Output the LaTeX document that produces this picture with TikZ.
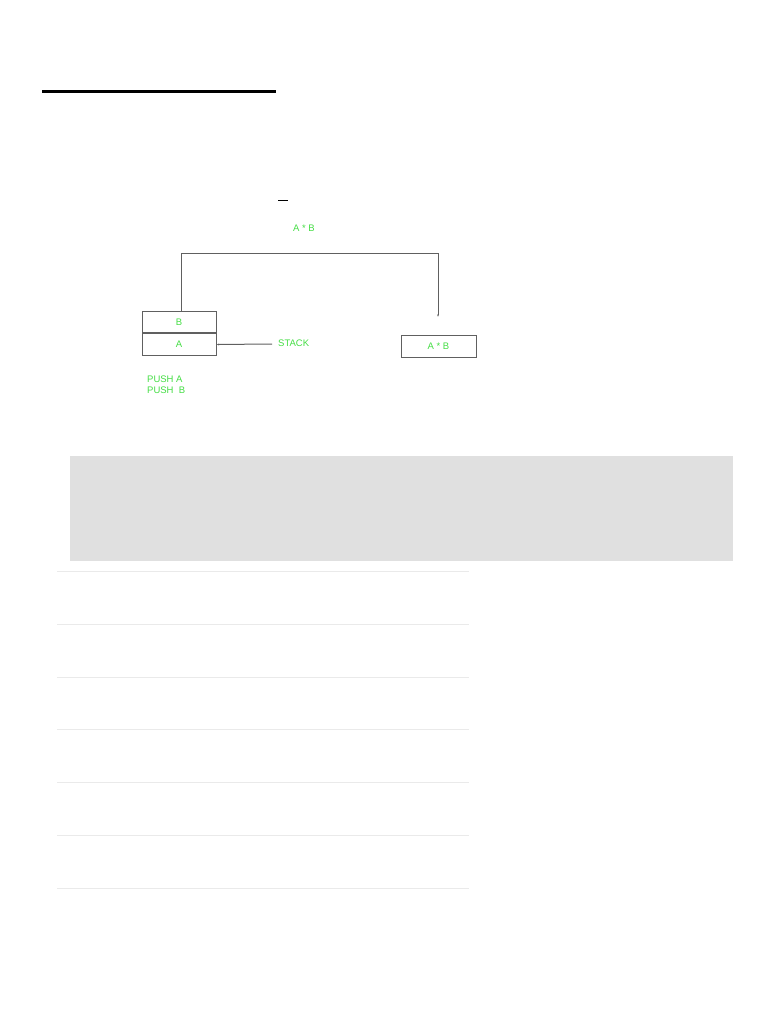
\documentclass[tikz,border=0pt]{standalone}
\usepackage{fontspec}
\setmainfont{Liberation Sans}
\usetikzlibrary{arrows.meta}
\definecolor{lbl}{HTML}{44DD44}
\definecolor{edge}{HTML}{606060}
\definecolor{panel}{HTML}{E0E0E0}
\definecolor{rule}{HTML}{EAEAEA}
\tikzset{
  lab/.style={text=lbl,font=\fontsize{9.5}{10.5}\selectfont,inner sep=0pt},
  cell/.style={draw=edge,line width=1pt,minimum width=74pt,minimum height=21.5pt,inner sep=0pt,text=lbl,font=\fontsize{9.5}{10.5}\selectfont},
  conn/.style={draw=edge,line width=1pt},
  tip/.style={-{Latex[length=2.5pt,width=2pt]}},
  sep/.style={draw=rule,line width=1pt}
}
\begin{document}
\begin{tikzpicture}[x=1pt,y=-1pt]
\useasboundingbox (0,0) rectangle (768,1024);
% heading rule
\draw[line width=3pt,black] (42,92) -- (276,92);
\draw[line width=1pt,black] (278,200.5) -- (288,200.5);
% top label
\node[lab] (top) at (304,228) {A * B};
% stack
\node[cell] (b) at (179,322) {B};
\node[cell,anchor=north] (a) at (b.south) {A};
\node[lab,anchor=west] (stk) at (278,343) {STACK};
\coordinate (stkend) at (272,344);
\draw[conn,tip] (stkend) -- (a.east);
% result
\node[cell,minimum width=75pt,minimum height=22pt] (res) at (438.5,346) {A * B};
\coordinate (c1) at (181,253);
\coordinate (c2) at (438,253);
\coordinate (c3) at (438,317);
\draw[conn,tip] (b.north -| c1) -- (c1) -- (c2) -- (c3);
% push text
\node[lab,anchor=north west,align=left] (push) at (147,376) {PUSH A\\PUSH\ \ B};
% gray panel
\fill[panel] (70,456) rectangle (733,561);
% rules
\foreach \yy in {571.5,624,677,729.5,782,835,888}
  \draw[sep] (57,\yy) -- (469,\yy);
\end{tikzpicture}
\end{document}
